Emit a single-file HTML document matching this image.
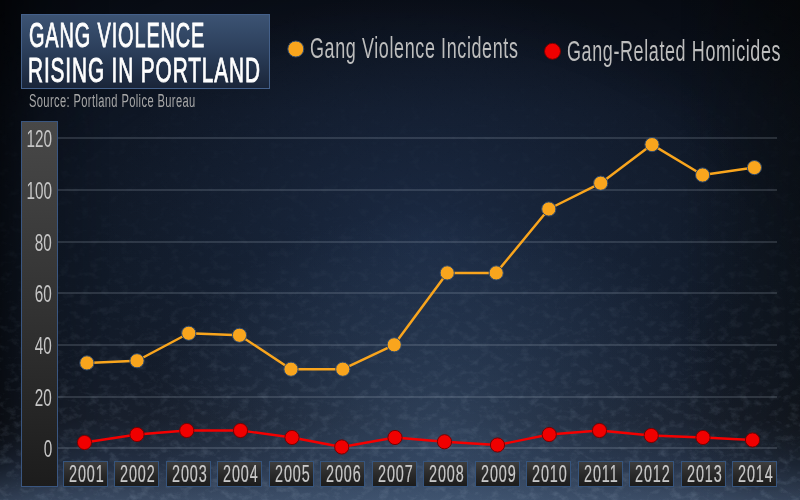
<!DOCTYPE html>
<html><head><meta charset="utf-8">
<style>
html,body{margin:0;padding:0;}
body{width:800px;height:500px;overflow:hidden;position:relative;font-family:"Liberation Sans",sans-serif;background:#141c2a;}
#bg{position:absolute;left:0;top:0;width:800px;height:500px;
background:
 radial-gradient(ellipse 300px 230px at 440px 440px, rgba(75,104,140,0.45) 0%, rgba(75,104,140,0.2) 50%, rgba(75,104,140,0) 100%),
 radial-gradient(ellipse 330px 250px at 430px 240px, rgba(40,62,100,0.45) 0%, rgba(40,62,100,0) 100%),
 linear-gradient(to bottom,#0a0f19 0%,#0f1725 22%,#111a28 55%,#141c2a 75%,#181f2c 84%,#243044 93%,#3a4a62 100%);}
#vig{position:absolute;left:0;top:0;width:800px;height:500px;
background:radial-gradient(ellipse 640px 480px at 400px 330px, rgba(0,0,0,0) 60%, rgba(0,0,0,0.45) 100%);
-webkit-mask-image:linear-gradient(to bottom,#000 0%,#000 70%,rgba(0,0,0,0.3) 95%);}
#vl{position:absolute;left:0;top:0;width:800px;height:500px;
background:linear-gradient(to right, rgba(0,0,0,0.55) 0px, rgba(0,0,0,0.2) 40px, rgba(0,0,0,0) 110px, rgba(0,0,0,0) 680px, rgba(5,5,0,0.32) 800px);
-webkit-mask-image:linear-gradient(to bottom,#000 0%,#000 88%,rgba(0,0,0,0.2) 100%);}
.t{position:absolute;display:inline-block;white-space:nowrap;transform-origin:0 0;line-height:1;}
.r{transform-origin:100% 0;text-align:right;}
#titlebox{position:absolute;left:21px;top:14px;width:246.5px;height:73px;border:1px solid #44608a;
background:linear-gradient(to bottom,#3c5373 0%,#2b3e5a 50%,#1a2539 100%);}
.title{color:#ffffff;font-size:35px;font-weight:normal;-webkit-text-stroke:0.9px #fff;letter-spacing:1.5px;}
.leg{color:#bdbdbd;font-size:29px;letter-spacing:1.0px;}
.src{color:#a6a6a6;font-size:18px;letter-spacing:0.6px;}
#ycol{position:absolute;left:21px;top:121px;width:35px;height:364px;border:1px solid #3a5680;
background:linear-gradient(to bottom,#484848 0%,#333 50%,#1c1c1c 100%);}
.ylab{color:#c6c6c6;font-size:24px;}
.yb{position:absolute;top:461px;width:43px;height:24px;border:1px solid #36547c;
background:linear-gradient(to bottom,#3e3e3e 0%,#2a2a2a 50%,#1b1b1b 100%);}
.yl{color:#c9c9c9;font-size:24px;letter-spacing:1.5px;-webkit-text-stroke:0.2px #c9c9c9;}
svg{position:absolute;left:0;top:0;}
</style></head><body>
<div id="bg"></div>
<div id="vig"></div>
<div id="vl"></div>
<svg id="tex" width="800" height="500" style="position:absolute;left:0;top:0">
<defs>
<filter id="nz" x="0" y="0" width="800" height="500" filterUnits="userSpaceOnUse">
<feTurbulence type="fractalNoise" baseFrequency="0.1 0.14" numOctaves="5" seed="7" result="t"/>
<feColorMatrix in="t" type="matrix" values="0 0 0 0 0.33  0 0 0 0 0.42  0 0 0 0 0.54  2.6 0 0 0 -1.25"/>
</filter>
<linearGradient id="tg" x1="0" y1="0" x2="0" y2="1">
<stop offset="0" stop-color="#fff" stop-opacity="0.0"/>
<stop offset="0.5" stop-color="#fff" stop-opacity="0.04"/>
<stop offset="1" stop-color="#fff" stop-opacity="0.2"/>
</linearGradient>
<mask id="tm"><rect width="800" height="500" fill="url(#tg)"/></mask>
</defs>
<g mask="url(#tm)"><rect width="800" height="500" filter="url(#nz)"/></g>
</svg>
<div id="titlebox"></div>
<span class="t title" id="t1" style="left:28.5px;top:16.5px;transform:scaleX(0.5697)">GANG VIOLENCE</span>
<span class="t title" id="t2" style="left:27.5px;top:51.5px;transform:scaleX(0.5939)">RISING IN PORTLAND</span>
<span class="t src" id="src" style="left:29px;top:91.5px;transform:scaleX(0.619)">Source: Portland Police Bureau</span>
<span class="t leg" id="l1" style="left:310px;top:33.5px;transform:scaleX(0.619)">Gang Violence Incidents</span>
<span class="t leg" id="l2" style="left:567px;top:36.5px;transform:scaleX(0.619)">Gang-Related Homicides</span>
<div id="ycol"></div>
<svg width="800" height="500" viewBox="0 0 800 500">
 <g stroke="rgba(200,210,225,0.16)" stroke-width="2">
  <line x1="58" y1="138.00" x2="777" y2="138.00"/>
  <line x1="58" y1="190.00" x2="777" y2="190.00"/>
  <line x1="58" y1="242.00" x2="777" y2="242.00"/>
  <line x1="58" y1="293.00" x2="777" y2="293.00"/>
  <line x1="58" y1="345.00" x2="777" y2="345.00"/>
  <line x1="58" y1="397.00" x2="777" y2="397.00"/>
  <line x1="58" y1="448.00" x2="777" y2="448.00"/>
 </g>
 <polyline fill="none" stroke="#f9a51d" stroke-width="2.5" stroke-linejoin="round" points="86.90,362.90 137.00,360.75 188.75,333.25 239.50,335.25 291.00,369.20 342.80,369.20 394.20,344.80 447.20,272.90 496.20,272.90 548.80,209.00 600.70,183.20 652.00,144.60 702.60,175.00 754.40,167.60"/>
 <g fill="#f9a51d" stroke="#2f4a6e" stroke-width="1"><circle cx="86.90" cy="362.90" r="7.1"/><circle cx="137.00" cy="360.75" r="7.1"/><circle cx="188.75" cy="333.25" r="7.1"/><circle cx="239.50" cy="335.25" r="7.1"/><circle cx="291.00" cy="369.20" r="7.1"/><circle cx="342.80" cy="369.20" r="7.1"/><circle cx="394.20" cy="344.80" r="7.1"/><circle cx="447.20" cy="272.90" r="7.1"/><circle cx="496.20" cy="272.90" r="7.1"/><circle cx="548.80" cy="209.00" r="7.1"/><circle cx="600.70" cy="183.20" r="7.1"/><circle cx="652.00" cy="144.60" r="7.1"/><circle cx="702.60" cy="175.00" r="7.1"/><circle cx="754.40" cy="167.60" r="7.1"/></g>
 <polyline fill="none" stroke="#f40000" stroke-width="2.4" stroke-linejoin="round" points="84.50,442.50 137.00,434.50 186.75,430.50 240.50,430.50 292.00,437.50 341.75,447.00 395.00,437.50 444.50,441.75 497.50,445.00 549.25,434.50 599.50,430.50 651.25,435.50 703.00,437.50 752.50,440.00"/>
 <g fill="#f00000" stroke="#7a0000" stroke-width="1"><circle cx="84.50" cy="442.50" r="7.1"/><circle cx="137.00" cy="434.50" r="7.1"/><circle cx="186.75" cy="430.50" r="7.1"/><circle cx="240.50" cy="430.50" r="7.1"/><circle cx="292.00" cy="437.50" r="7.1"/><circle cx="341.75" cy="447.00" r="7.1"/><circle cx="395.00" cy="437.50" r="7.1"/><circle cx="444.50" cy="441.75" r="7.1"/><circle cx="497.50" cy="445.00" r="7.1"/><circle cx="549.25" cy="434.50" r="7.1"/><circle cx="599.50" cy="430.50" r="7.1"/><circle cx="651.25" cy="435.50" r="7.1"/><circle cx="703.00" cy="437.50" r="7.1"/><circle cx="752.50" cy="440.00" r="7.1"/></g>
 <circle cx="295.8" cy="49" r="8" fill="#f9a51d" stroke="#2f4a6e" stroke-width="1"/>
 <circle cx="552.5" cy="51.3" r="8" fill="#f00000" stroke="#7a0000" stroke-width="1"/>
</svg>
<span class="t r ylab" id="ya120" style="right:748.00px;top:127.10px;transform:scaleX(0.638)">120</span>
<span class="t r ylab" id="ya100" style="right:748.00px;top:179.10px;transform:scaleX(0.638)">100</span>
<span class="t r ylab" id="ya80" style="right:748.00px;top:231.10px;transform:scaleX(0.638)">80</span>
<span class="t r ylab" id="ya60" style="right:748.00px;top:282.10px;transform:scaleX(0.638)">60</span>
<span class="t r ylab" id="ya40" style="right:748.00px;top:334.10px;transform:scaleX(0.638)">40</span>
<span class="t r ylab" id="ya20" style="right:748.00px;top:386.10px;transform:scaleX(0.638)">20</span>
<span class="t r ylab" id="ya0" style="right:748.00px;top:437.10px;transform:scaleX(0.638)">0</span>
<div class="yb" style="left:62.80px"></div>
<div class="yb" style="left:114.29px"></div>
<div class="yb" style="left:165.78px"></div>
<div class="yb" style="left:217.27px"></div>
<div class="yb" style="left:268.76px"></div>
<div class="yb" style="left:320.25px"></div>
<div class="yb" style="left:371.74px"></div>
<div class="yb" style="left:423.23px"></div>
<div class="yb" style="left:474.72px"></div>
<div class="yb" style="left:526.21px"></div>
<div class="yb" style="left:577.70px"></div>
<div class="yb" style="left:629.19px"></div>
<div class="yb" style="left:680.68px"></div>
<div class="yb" style="left:732.17px"></div>
<span class="t yl" id="y2001" style="left:68.80px;top:462px;transform:scaleX(0.6)">2001</span>
<span class="t yl" id="y2002" style="left:120.29px;top:462px;transform:scaleX(0.6)">2002</span>
<span class="t yl" id="y2003" style="left:171.78px;top:462px;transform:scaleX(0.6)">2003</span>
<span class="t yl" id="y2004" style="left:223.27px;top:462px;transform:scaleX(0.6)">2004</span>
<span class="t yl" id="y2005" style="left:274.76px;top:462px;transform:scaleX(0.6)">2005</span>
<span class="t yl" id="y2006" style="left:326.25px;top:462px;transform:scaleX(0.6)">2006</span>
<span class="t yl" id="y2007" style="left:377.74px;top:462px;transform:scaleX(0.6)">2007</span>
<span class="t yl" id="y2008" style="left:429.23px;top:462px;transform:scaleX(0.6)">2008</span>
<span class="t yl" id="y2009" style="left:480.72px;top:462px;transform:scaleX(0.6)">2009</span>
<span class="t yl" id="y2010" style="left:532.21px;top:462px;transform:scaleX(0.6)">2010</span>
<span class="t yl" id="y2011" style="left:583.70px;top:462px;transform:scaleX(0.6)">2011</span>
<span class="t yl" id="y2012" style="left:635.19px;top:462px;transform:scaleX(0.6)">2012</span>
<span class="t yl" id="y2013" style="left:686.68px;top:462px;transform:scaleX(0.6)">2013</span>
<span class="t yl" id="y2014" style="left:738.17px;top:462px;transform:scaleX(0.6)">2014</span>
</body></html>
